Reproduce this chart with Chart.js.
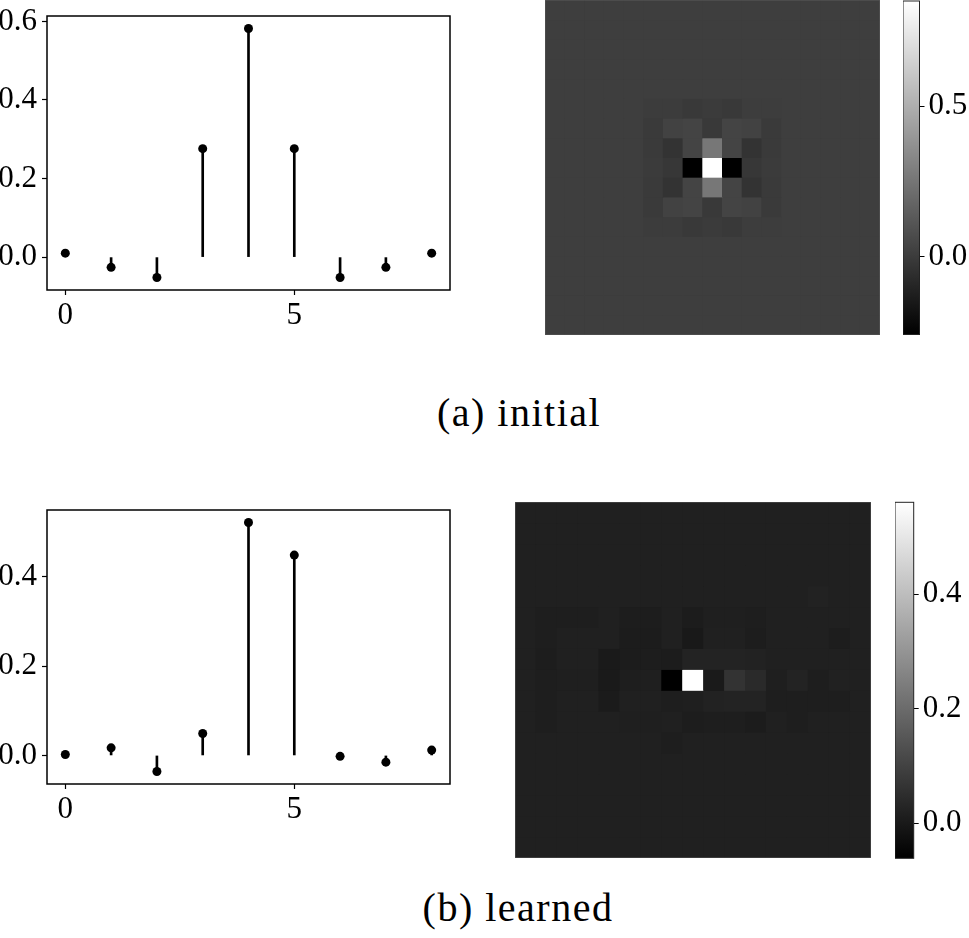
<!DOCTYPE html>
<html>
<head>
<meta charset="utf-8">
<script src="https://cdn.jsdelivr.net/npm/chart.js@4.4.1/dist/chart.umd.min.js"></script>
<style>
  body { margin: 0; background: #fff; width: 969px; height: 938px; overflow: hidden; position: relative; }
  canvas { position: absolute; }
  .caption { position: absolute; width: 240px; text-align: center; font-family: "Liberation Serif", serif; font-size: 40px; line-height: 40px; letter-spacing: 1.5px; color: #000; white-space: nowrap; }
</style>
</head>
<body>
<canvas id="stemA" width="460" height="340" style="left:0;top:0"></canvas>
<canvas id="heatA" width="335" height="335" style="left:545px;top:0"></canvas>
<canvas id="cbarA" width="66" height="340" style="left:903px;top:0"></canvas>
<div class="caption" style="left:399px;top:393px">(a) initial</div>

<canvas id="stemB" width="460" height="340" style="left:0;top:494px"></canvas>
<canvas id="heatB" width="356" height="356" style="left:515px;top:502px"></canvas>
<canvas id="cbarB" width="74" height="364" style="left:895px;top:500px"></canvas>
<div class="caption" style="left:398px;top:888px">(b) learned</div>

<script>
// filter taps (1D stem plots)
var taps = [0, 1, 2, 3, 4, 5, 6, 7, 8];
var initialTaps = [0.010, -0.026, -0.052, 0.276, 0.582, 0.276, -0.052, -0.026, 0.010];
var learnedTaps = [0.002, 0.017, -0.036, 0.049, 0.521, 0.448, -0.002, -0.015, 0.012];
var stemXTicks = [0, 5];
var initialYTicks = [0.0, 0.2, 0.4, 0.6];
var learnedYTicks = [0.0, 0.2, 0.4];

// 2D kernels (17x17), background value + central patch
var gridSize = 17;
var initialBg = 0.012;
var initialOffset = [5, 5];
var initialPatch = [
  [ 0.004,  0.004, -0.012, -0.002, -0.012,  0.008,  0.008],
  [-0.006,  0.029,  0.038, -0.008,  0.038,  0.029, -0.006],
  [-0.004, -0.036,  0.038,  0.259,  0.038, -0.036, -0.004],
  [ 0.000, -0.019, -0.257,  0.848, -0.257, -0.019,  0.000],
  [-0.004, -0.036,  0.038,  0.259,  0.038, -0.036, -0.004],
  [-0.006,  0.029,  0.038, -0.008,  0.038,  0.029, -0.006],
  [ 0.004,  0.004, -0.012, -0.002, -0.012,  0.008,  0.008]
];
var learnedBg = 0.017;
var learnedOffset = [4, 1];
var learnedPatch = [
  [0.017, 0.017, 0.017, 0.017, 0.017, 0.017, 0.017, 0.017, 0.017, 0.017, 0.017, 0.017, 0.017, 0.021, 0.017],
  [0.012, 0.012, 0.012, 0.017, 0.010, 0.010, 0.017, 0.007, 0.015, 0.015, 0.012, 0.017, 0.017, 0.017, 0.017],
  [0.012, 0.017, 0.017, 0.017, 0.008, 0.008, 0.017, 0.000, 0.017, 0.017, 0.010, 0.017, 0.017, 0.017, 0.010],
  [0.010, 0.017, 0.017, 0.002, 0.007, 0.010, 0.007, 0.024, 0.024, 0.024, 0.022, 0.017, 0.017, 0.017, 0.017],
  [0.012, 0.015, 0.015, 0.002, 0.012, 0.015, -0.061, 0.560, 0.002, 0.063, 0.041, 0.015, 0.024, 0.012, 0.019],
  [0.012, 0.017, 0.017, 0.005, 0.017, 0.017, 0.012, 0.015, 0.022, 0.024, 0.024, 0.012, 0.012, 0.012, 0.012],
  [0.012, 0.017, 0.017, 0.017, 0.015, 0.015, 0.017, 0.010, 0.012, 0.012, 0.007, 0.017, 0.012, 0.017, 0.017],
  [0.017, 0.017, 0.017, 0.017, 0.017, 0.017, 0.012, 0.017, 0.017, 0.017, 0.017, 0.017, 0.017, 0.017, 0.017]
];
var initialRange = [-0.257, 0.848];
var learnedRange = [-0.061, 0.560];
var initialCbarTicks = [0.0, 0.5];
var learnedCbarTicks = [0.0, 0.2, 0.4];

var tickFont = { family: "'Liberation Serif', serif", size: 31 };

var framePlugin = {
  id: 'frame',
  afterDraw: function (chart, args, opts) {
    var a = chart.chartArea, c = chart.ctx;
    c.save();
    c.strokeStyle = opts.color || '#000';
    c.lineWidth = opts.width || 1.5;
    c.strokeRect(a.left, a.top, a.right - a.left, a.bottom - a.top);
    c.restore();
  }
};

function setTicks(list) {
  return function (scale) { scale.ticks = list.map(function (v) { return { value: v }; }); };
}
function noPad(size, key) {
  return function (scale) {
    scale[key] = size;
    scale.paddingTop = 0; scale.paddingBottom = 0; scale.paddingLeft = 0; scale.paddingRight = 0;
  };
}
function gray(v, range) {
  var t = (v - range[0]) / (range[1] - range[0]);
  t = Math.max(0, Math.min(1, t));
  var g = Math.round(t * 255);
  return 'rgb(' + g + ',' + g + ',' + g + ')';
}

function stemChart(id, values, yTicks) {
  var lo = Math.min.apply(null, values), hi = Math.max.apply(null, values);
  var m = (hi - lo) * 0.05;
  var pts = taps.map(function (t, i) { return { x: t, y: values[i] }; });
  new Chart(document.getElementById(id), {
    type: 'bar',
    data: {
      datasets: [{
        type: 'bar',
        data: pts,
        backgroundColor: '#000',
        borderWidth: 0,
        barThickness: 2
      }, {
        type: 'scatter',
        data: pts,
        backgroundColor: '#000',
        borderWidth: 0,
        pointRadius: 4.5
      }]
    },
    options: {
      responsive: false,
      animation: false,
      events: [],
      layout: { padding: { left: 0, right: 10, top: 16, bottom: 0 } },
      plugins: { legend: { display: false }, tooltip: { enabled: false }, frame: { width: 1.5 } },
      scales: {
        x: {
          type: 'linear', min: -0.4, max: 8.4, offset: false,
          afterBuildTicks: setTicks(stemXTicks),
          afterFit: noPad(50, 'height'),
          grid: { offset: false, drawOnChartArea: false, tickLength: 5, tickColor: '#000', tickWidth: 1.2 },
          border: { display: false },
          ticks: { font: tickFont, color: '#000', padding: 2, callback: function (v) { return String(v); } }
        },
        y: {
          type: 'linear', min: lo - m, max: hi + m,
          afterBuildTicks: setTicks(yTicks),
          afterFit: noPad(47, 'width'),
          grid: { drawOnChartArea: false, tickLength: 5, tickColor: '#000', tickWidth: 1.2 },
          border: { display: false },
          ticks: { font: tickFont, color: '#000', padding: 5, callback: function (v) { return v.toFixed(1); } }
        }
      }
    },
    plugins: [framePlugin]
  });
}

function heatChart(id, bg, offset, patch, range) {
  var labels = [];
  for (var c = 0; c < gridSize; c++) labels.push(c);
  var datasets = [];
  for (var r = 0; r < gridSize; r++) {
    var row = labels.map(function () { return bg; });
    var pr = r - offset[0];
    if (pr >= 0 && pr < patch.length) {
      patch[pr].forEach(function (v, j) { row[offset[1] + j] = v; });
    }
    datasets.push({
      data: labels.map(function () { return [r, r + 1]; }),
      backgroundColor: row.map(function (v) { return gray(v, range); }),
      borderWidth: 0,
      barPercentage: 1,
      categoryPercentage: 1
    });
  }
  var cv = document.getElementById(id);
  cv.style.background = gray(bg, range);
  new Chart(cv, {
    type: 'bar',
    data: { labels: labels, datasets: datasets },
    options: {
      responsive: false,
      animation: false,
      events: [],
      layout: { padding: 0 },
      plugins: { legend: { display: false }, tooltip: { enabled: false }, frame: { color: '#5a5a5a', width: 1 } },
      scales: {
        x: { display: false, stacked: true },
        y: { display: false, stacked: false, min: 0, max: gridSize, reverse: true }
      }
    },
    plugins: [framePlugin]
  });
}

function colorbar(id, range, ticks, padTop, padBottom, barWidth) {
  var cv = document.getElementById(id);
  new Chart(cv, {
    type: 'bar',
    data: {
      labels: [''],
      datasets: [{
        data: [range],
        borderWidth: 0,
        barPercentage: 1,
        categoryPercentage: 1,
        backgroundColor: function (ctx) {
          var ch = ctx.chart, y = ch.scales.y;
          if (!ch.chartArea || !y) return '#888';
          var g = ch.ctx.createLinearGradient(0, y.getPixelForValue(range[0]), 0, y.getPixelForValue(range[1]));
          g.addColorStop(0, '#000');
          g.addColorStop(1, '#fff');
          return g;
        }
      }]
    },
    options: {
      responsive: false,
      animation: false,
      events: [],
      layout: { padding: { left: 0, right: 0, top: padTop, bottom: padBottom } },
      plugins: { legend: { display: false }, tooltip: { enabled: false }, frame: { color: '#222', width: 1 } },
      scales: {
        x: { display: false },
        y: {
          position: 'right', min: range[0], max: range[1],
          afterBuildTicks: setTicks(ticks),
          afterFit: noPad(cv.width - barWidth, 'width'),
          grid: { drawOnChartArea: false, tickLength: 5, tickColor: '#000', tickWidth: 1 },
          border: { display: false },
          ticks: { font: tickFont, color: '#000', padding: 4, callback: function (v) { return v.toFixed(1); } }
        }
      }
    },
    plugins: [framePlugin]
  });
}

document.addEventListener('DOMContentLoaded', function () {
  stemChart('stemA', initialTaps, initialYTicks);
  stemChart('stemB', learnedTaps, learnedYTicks);
  heatChart('heatA', initialBg, initialOffset, initialPatch, initialRange);
  heatChart('heatB', learnedBg, learnedOffset, learnedPatch, learnedRange);
  colorbar('cbarA', initialRange, initialCbarTicks, 1, 5.5, 16.5);
  colorbar('cbarB', learnedRange, learnedCbarTicks, 2.3, 5.7, 18.7);
});
</script>
</body>
</html>
